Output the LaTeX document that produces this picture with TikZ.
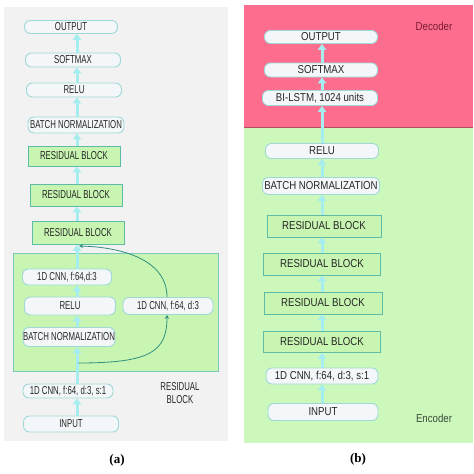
\documentclass[tikz,border=0pt]{standalone}
\usepackage{fontspec}
\usetikzlibrary{arrows.meta}
\newfontfamily\fa[FakeStretch=0.68]{Liberation Sans}
\newfontfamily\fb[FakeStretch=0.84]{Liberation Sans}
\newfontfamily\capf{Liberation Serif}
\definecolor{panelgrey}{HTML}{F2F2F2}
\definecolor{pinkbg}{HTML}{FD6E8E}
\definecolor{greenbg}{HTML}{CCF8BC}
\definecolor{blockfill}{HTML}{C8F5B2}
\definecolor{blockline}{HTML}{5DBBA8}
\definecolor{nodefill}{HTML}{F4F7F9}
\definecolor{nodeline}{HTML}{9ED9D8}
\definecolor{arrowc}{HTML}{A6EDF0}
\definecolor{skipc}{HTML}{2F8F80}
\definecolor{txt}{HTML}{262626}
\definecolor{dectxt}{HTML}{7A1A35}
\definecolor{enctxt}{HTML}{3A4A3A}
\tikzset{
  sz/.style 2 args={minimum width=#1pt, minimum height=#2pt},
  layer/.style={draw=nodeline, fill=nodefill, rounded corners=6pt, line width=0.9pt, inner sep=0pt, text=txt},
  resblock/.style={draw=blockline, fill=blockfill, line width=0.9pt, inner sep=0pt, text=txt},
  fontA/.style={font=\fa\fontsize{11.5}{13}\selectfont},
  fontB/.style={font=\fb\fontsize{11.5}{13}\selectfont},
  flow/.style={draw=arrowc, line width=3pt, -{Triangle[width=8.5pt,length=6pt]}},
  skip/.style={draw=skipc, line width=0.8pt, -{Stealth[width=4pt,length=4pt]}},
}
\begin{document}
\begin{tikzpicture}[x=1pt,y=-1pt]
\useasboundingbox (0,0) rectangle (474,474);
\fill[white] (0,0) rectangle (474,474);
% panel backgrounds
\fill[panelgrey] (4,7) rectangle (228,441);
\fill[greenbg] (244,127) rectangle (473,443);
\fill[pinkbg] (244,5) rectangle (473,127);
\draw[color=pinkbg!70!black, line width=0.5pt] (244,127) -- (473,127);

% ---------- panel (a) ----------
\node[draw=blockline!80, fill=blockfill, line width=0.9pt, sz={205}{118}] (acont) at (115.5,312) {};
\coordinate (axa) at (77,0);

\node[layer, fontA, sz={93}{13}] (aout) at (71,27) {OUTPUT};
\node[layer, fontA, sz={95}{14}] (asm) at (73,60) {SOFTMAX};
\node[layer, fontA, sz={95}{14}] (arelu) at (74,90) {RELU};
\node[layer, fontA, sz={96}{16}] (abn) at (76,125) {BATCH NORMALIZATION};
\node[resblock, fontA, sz={92}{20}] (arb1) at (74,156) {RESIDUAL BLOCK};
\node[resblock, fontA, sz={92}{22}] (arb2) at (76,195) {RESIDUAL BLOCK};
\node[resblock, fontA, sz={92}{23}] (arb3) at (78,233) {RESIDUAL BLOCK};
\node[layer, fontA, sz={89}{16}] (acnn) at (67,277) {1D CNN, f:64,d:3};
\node[layer, fontA, sz={91}{18}] (arelu2) at (70,306) {RELU};
\node[layer, fontA, sz={92}{19}] (abn2) at (69,337) {BATCH NORMALIZATION};
\node[layer, fontA, sz={90}{17}] (askip) at (168,306) {1D CNN, f:64, d:3};
\node[layer, fontA, sz={90}{14}] (acnn1) at (68,391) {1D CNN, f:64, d:3, s:1};
\node[layer, fontA, sz={95}{16}] (ain) at (71,424) {INPUT};
\node[fontA, text=txt, align=center] (alabel) at (180,393) {RESIDUAL\\BLOCK};

\draw[flow] (ain.north -| axa) -- (acnn1.south -| axa);
\draw[flow] (acnn1.north -| axa) -- (abn2.south -| axa);
\draw[flow] (abn2.north -| axa) -- (arelu2.south -| axa);
\draw[flow] (arelu2.north -| axa) -- (acnn.south -| axa);
\draw[flow] (acnn.north -| axa) -- (arb3.south -| axa);
\draw[flow] (arb3.north -| axa) -- (arb2.south -| axa);
\draw[flow] (arb2.north -| axa) -- (arb1.south -| axa);
\draw[flow] (arb1.north -| axa) -- (abn.south -| axa);
\draw[flow] (abn.north -| axa) -- (arelu.south -| axa);
\draw[flow] (arelu.north -| axa) -- (asm.south -| axa);
\draw[flow] (asm.north -| axa) -- (aout.south -| axa);

\coordinate (skipstart) at (78,363);
\coordinate (skipend) at (79,246);
\draw[skip] (skipstart) .. controls (150,363) and (167,352) .. ([xshift=-1pt]askip.south);
\draw[skip] ([xshift=-1pt]askip.north) .. controls (167,258) and (118,247) .. (skipend);

\node[font=\capf\bfseries\fontsize{13}{15}\selectfont, text=black] (capa) at (117,460) {(a)};

% ---------- panel (b) ----------
\coordinate (axb) at (322,0);
\node[layer, fontB, sz={113}{13}] (bout) at (321,37) {OUTPUT};
\node[layer, fontB, sz={113}{14}] (bsm) at (321,70) {SOFTMAX};
\node[layer, fontB, sz={115}{15}] (blstm) at (320,98) {BI-LSTM, 1024 units};
\node[layer, fontB, sz={113}{15}] (brelu) at (322,151) {RELU};
\node[layer, fontB, sz={117}{17}] (bbn) at (321,186) {BATCH NORMALIZATION};
\node[resblock, fontB, sz={114}{22}] (brb1) at (324,226) {RESIDUAL BLOCK};
\node[resblock, fontB, sz={117}{22}] (brb2) at (322,264) {RESIDUAL BLOCK};
\node[resblock, fontB, sz={118}{22}] (brb3) at (323,303) {RESIDUAL BLOCK};
\node[resblock, fontB, sz={117}{21}] (brb4) at (322,342) {RESIDUAL BLOCK};
\node[layer, fontB, sz={112}{16}] (bcnn) at (322,376) {1D CNN, f:64, d:3, s:1};
\node[layer, fontB, sz={110}{17}] (bin) at (323,412) {INPUT};

\draw[flow] (bin.north -| axb) -- (bcnn.south -| axb);
\draw[flow] (bcnn.north -| axb) -- (brb4.south -| axb);
\draw[flow] (brb4.north -| axb) -- (brb3.south -| axb);
\draw[flow] (brb3.north -| axb) -- (brb2.south -| axb);
\draw[flow] (brb2.north -| axb) -- (brb1.south -| axb);
\draw[flow] (brb1.north -| axb) -- (bbn.south -| axb);
\draw[flow] (bbn.north -| axb) -- (brelu.south -| axb);
\draw[flow] (brelu.north -| axb) -- (blstm.south -| axb);
\draw[flow] (blstm.north -| axb) -- (bsm.south -| axb);
\draw[flow] (bsm.north -| axb) -- (bout.south -| axb);

\node[fontB, text=dectxt] (dec) at (434,26) {Decoder};
\node[fontB, text=enctxt] (enc) at (434,418) {Encoder};
\node[font=\capf\bfseries\fontsize{13}{15}\selectfont, text=black] (capb) at (358,459) {(b)};
\end{tikzpicture}
\end{document}
